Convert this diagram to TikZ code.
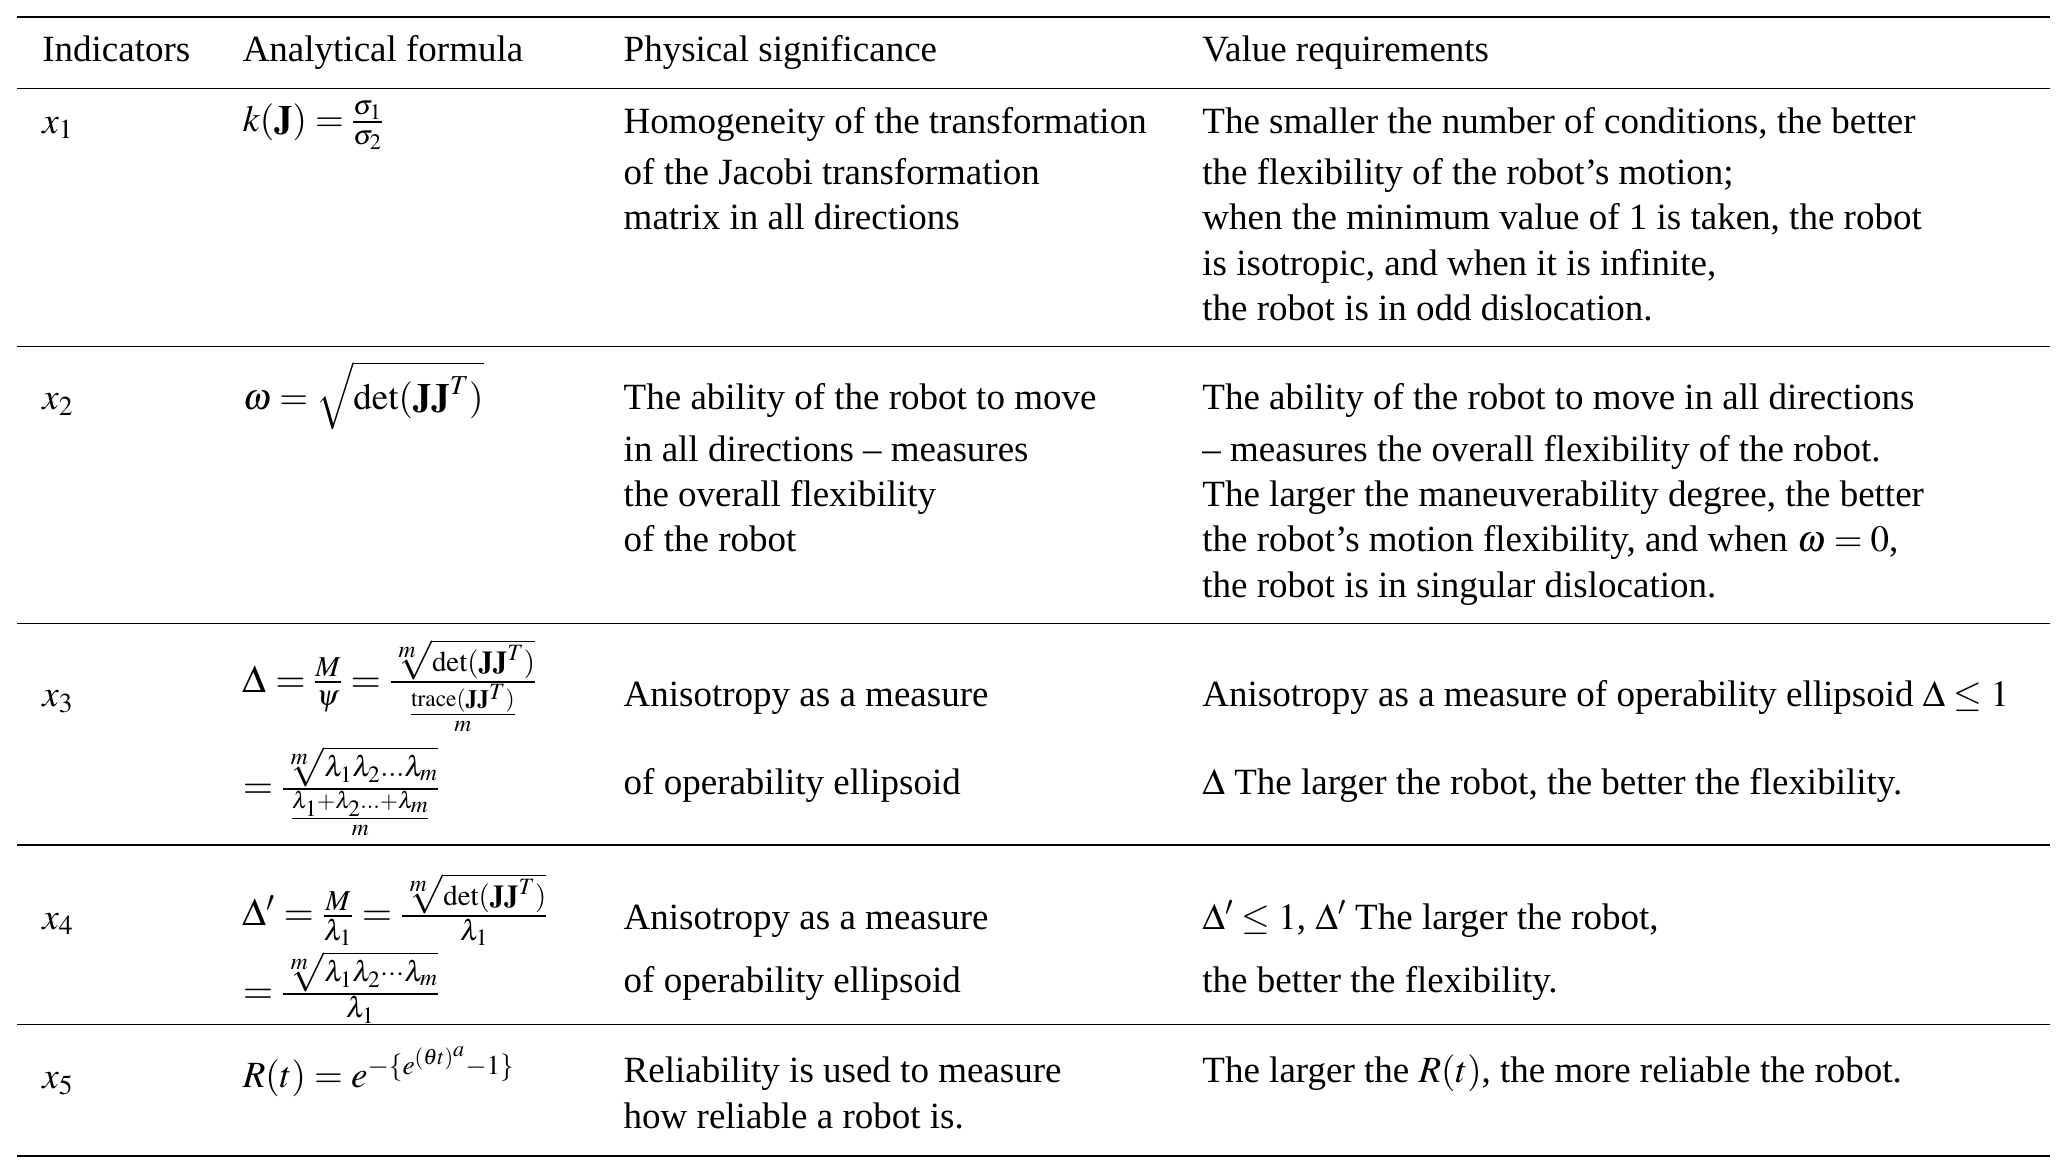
\documentclass[tikz,border=0pt]{standalone}
\usepackage{amsmath}
\usepackage{mathptmx}
\usepackage[no-math]{fontspec}
\setmainfont{Liberation Serif}
\begin{document}
\begin{tikzpicture}[x=1.3183pt,y=-1.3183pt,
  t/.style={anchor=base west,inner sep=0pt,font=\fontsize{37}{44}\selectfont},
  f/.style={anchor=west,inner sep=0pt,font=\fontsize{37}{44}\selectfont},
  fb/.style={anchor=west,inner sep=0pt,font=\fontsize{39}{46}\selectfont},
  rule/.style={line width=1.3pt}]
\useasboundingbox (0,0) rectangle (1568,890.5);
\foreach \y/\n in {13/r0,67/r1,263/r2,473/r3,641/r4,777/r5,877/r6}
  {\coordinate (\n a) at (13,\y); \coordinate (\n b) at (1555,\y); \draw[rule] (\n a) -- (\n b);}
% header
\node[t] (h1) at (32,47) {Indicators};
\node[t] (h2) at (184,47) {Analytical formula};
\node[t] (h3) at (473,47) {Physical significance};
\node[t] (h4) at (912,47) {Value requirements};
% row 1
\node[t] (a1) at (32,101) {$x_1$};
\node[f] (b1) at (184,95) {$k(\mathbf{J})=\frac{\sigma_1}{\sigma_2}$};
\node[t] (c11) at (473,101) {Homogeneity of the transformation};
\node[t] (c12) at (473,140) {of the Jacobi transformation};
\node[t] (c13) at (473,174) {matrix in all directions};
\node[t] (d11) at (912,101) {The smaller the number of conditions, the better};
\node[t] (d12) at (912,140) {the flexibility of the robot's motion;};
\node[t] (d13) at (912,174) {when the minimum value of 1 is taken, the robot};
\node[t] (d14) at (912,209) {is isotropic, and when it is infinite,};
\node[t] (d15) at (912,243) {the robot is in odd dislocation.};
% row 2
\node[t] (a2) at (32,311) {$x_2$};
\node[f] (b2) at (184,300) {$\omega=\sqrt{\det(\mathbf{JJ}^T)}$};
\node[t] (c21) at (473,311) {The ability of the robot to move};
\node[t] (c22) at (473,350) {in all directions -- measures};
\node[t] (c23) at (473,384) {the overall flexibility};
\node[t] (c24) at (473,418) {of the robot};
\node[t] (d21) at (912,311) {The ability of the robot to move in all directions};
\node[t] (d22) at (912,350) {-- measures the overall flexibility of the robot.};
\node[t] (d23) at (912,384) {The larger the maneuverability degree, the better};
\node[t] (d24) at (912,418) {the robot's motion flexibility, and when $\omega=0$,};
\node[t] (d25) at (912,453) {the robot is in singular dislocation.};
% row 3
\node[t] (a3) at (32,536) {$x_3$};
\node[fb] (b31) at (184,520) {$\Delta=\frac{M}{\psi}=\frac{\sqrt[m]{\det(\mathbf{JJ}^T)}}{\frac{\mathrm{trace}(\mathbf{JJ}^T)}{m}}$};
\node[fb] (b32) at (184,600) {$=\frac{\sqrt[m]{\lambda_1\lambda_2\ldots\lambda_m}}{\frac{\lambda_1+\lambda_2\ldots+\lambda_m}{m}}$};
\node[t] (c31) at (473,536) {Anisotropy as a measure};
\node[t] (c32) at (473,603) {of operability ellipsoid};
\node[t] (d31) at (912,536) {Anisotropy as a measure of operability ellipsoid $\Delta\le 1$};
\node[t] (d32) at (912,603) {$\Delta$ The larger the robot, the better the flexibility.};
% row 4
\node[t] (a4) at (32,705) {$x_4$};
\node[fb] (b41) at (184,690) {$\Delta'=\frac{M}{\lambda_1}=\frac{\sqrt[m]{\det(\mathbf{JJ}^T)}}{\lambda_1}$};
\node[fb] (b42) at (184,749) {$=\frac{\sqrt[m]{\lambda_1\lambda_2\cdots\lambda_m}}{\lambda_1}$};
\node[t] (c41) at (473,705) {Anisotropy as a measure};
\node[t] (c42) at (473,753) {of operability ellipsoid};
\node[t] (d41) at (912,705) {$\Delta'\le 1$, $\Delta'$ The larger the robot,};
\node[t] (d42) at (912,753) {the better the flexibility.};
% row 5
\node[t] (a5) at (32,826) {$x_5$};
\node[f] (b5) at (184,813) {$R(t)=e^{-\{e^{(\theta t)^a}-1\}}$};
\node[t] (c51) at (473,821) {Reliability is used to measure};
\node[t] (c52) at (473,856) {how reliable a robot is.};
\node[t] (d51) at (912,821) {The larger the $R(t)$, the more reliable the robot.};
\end{tikzpicture}
\end{document}
